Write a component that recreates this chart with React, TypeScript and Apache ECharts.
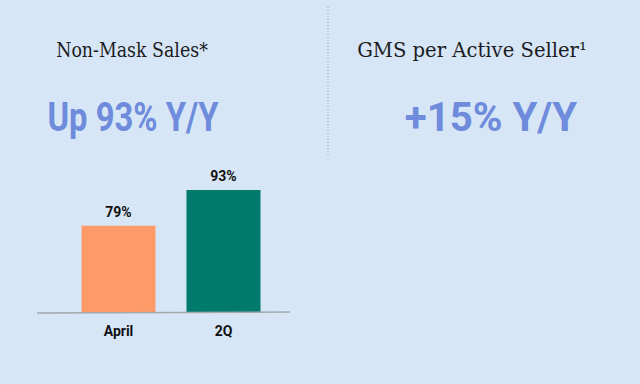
import React, { useEffect, useRef } from "react";
import * as echarts from "echarts";

const categories = ["April", "2Q"];
const values = [79, 93];
const barColors = ["#fe9a68", "#007a6c"];
const leftTitle = "Non-Mask Sales*";
const leftHeadline = "Up 93% Y/Y";
const rightTitle = "GMS per Active Seller¹";
const rightHeadline = "+15% Y/Y";

export default function App() {
  const ref = useRef<HTMLDivElement>(null);
  useEffect(() => {
    if (!ref.current) return;
    const chart = echarts.init(ref.current, undefined, { renderer: "svg" });
    const titleStyle = {
      fill: "#1c1c22",
      fontFamily: "DejaVu Serif",
      fontSize: 20,
      align: "center",
      verticalAlign: "middle",
    };
    const headStyle = {
      fill: "#6e8bdc",
      fontFamily: "Roboto",
      fontWeight: "bold",
      fontSize: 41,
      align: "center",
      verticalAlign: "middle",
    };
    chart.setOption({
      animation: false,
      backgroundColor: "#d6e6f6",
      grid: { left: 66, width: 210, top: 172, bottom: 71, containLabel: false },
      xAxis: {
        type: "category",
        data: categories,
        axisLine: { show: false },
        axisTick: { show: false },
        axisLabel: {
          color: "#111111",
          fontFamily: "Roboto",
          fontWeight: "bold",
          fontSize: 14,
          margin: 11,
        },
      },
      yAxis: {
        type: "value",
        min: 45,
        max: 100,
        show: false,
        splitLine: { show: false },
      },
      series: [
        {
          type: "bar",
          barWidth: 74,
          data: values.map((v, i) => ({ value: v, itemStyle: { color: barColors[i] } })),
          label: {
            show: true,
            position: "top",
            distance: 7,
            formatter: "{c}%",
            color: "#111111",
            fontFamily: "Roboto",
            fontWeight: "bold",
            fontSize: 14,
          },
        },
      ],
      graphic: [
        {
          type: "line",
          shape: { x1: 37, y1: 313, x2: 290, y2: 312 },
          style: { stroke: "#a3a8ad", lineWidth: 1.5 },
          z: 10,
        },
        {
          type: "line",
          shape: { x1: 328, y1: 7, x2: 328, y2: 156 },
          style: { stroke: "#9aa0a8", lineWidth: 1, lineDash: [1, 2] },
        },
        { type: "text", x: 132, y: 50, scaleX: 0.87, style: { ...titleStyle, text: leftTitle } },
        { type: "text", x: 472, y: 50, scaleX: 0.98, style: { ...titleStyle, text: rightTitle } },
        {
          type: "text",
          x: 133,
          y: 117,
          scaleX: 0.8,
          style: { ...headStyle, text: leftHeadline },
        },
        {
          type: "text",
          x: 491,
          y: 117,
          scaleX: 0.98,
          style: { ...headStyle, text: rightHeadline },
        },
      ],
    });
    return () => chart.dispose();
  }, []);
  return (
    <div
      ref={ref}
      style={{ position: "fixed", left: 0, top: 0, width: 640, height: 384 }}
    />
  );
}
